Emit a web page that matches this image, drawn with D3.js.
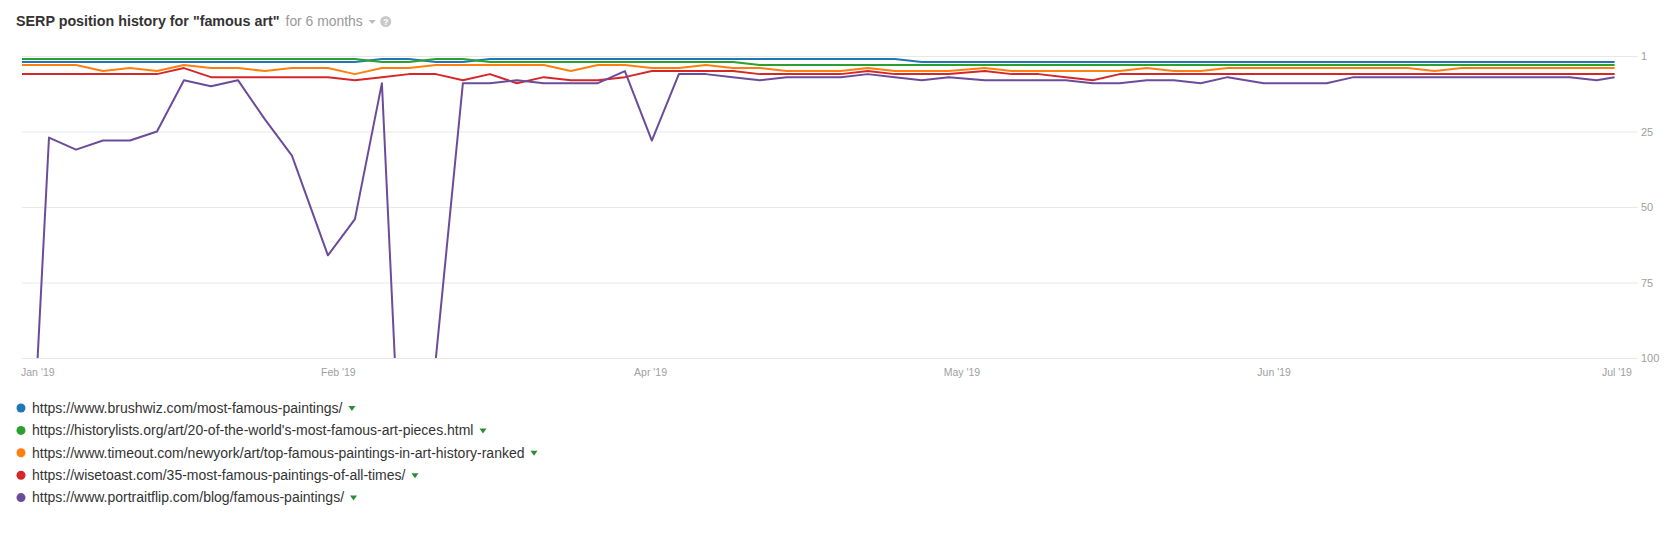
<!DOCTYPE html>
<html>
<head>
<meta charset="utf-8">
<script src="https://cdn.jsdelivr.net/npm/d3@7"></script>
<style>
  body { margin: 0; background: #fff; }
  svg { font-family: "Liberation Sans", Arial, sans-serif; display: block; }
</style>
</head>
<body>
<svg id="chart"></svg>
<script>
// sample days (ordinal position of each SERP check)
var days = [0,3,6,9,12,15,18,21,24,27,30,34,37,40,43,46,49,52,55,58,61,64,67,70,73,76,79,82,85,88,
  91,94,97,100,103,107,110,113,116,119,122,125,128,131,134,138,141,145,148,151,154,157,160,163,166,169,172,175,177];

// month labels on the x axis, positioned in the same day units
var tickDays = [1.7, 35.1, 69.8, 104.4, 139.1, 177.2];
var tickLabels = ["Jan '19", "Feb '19", "Apr '19", "May '19", "Jun '19", "Jul '19"];

var rankTicks = [0, 25, 50, 75, 100];

var urls = [
  "https://www.brushwiz.com/most-famous-paintings/",
  "https://historylists.org/art/20-of-the-world's-most-famous-art-pieces.html",
  "https://www.timeout.com/newyork/art/top-famous-paintings-in-art-history-ranked",
  "https://wisetoast.com/35-most-famous-paintings-of-all-times/",
  "https://www.portraitflip.com/blog/famous-paintings/"
];
var colors = ["#1f77b4", "#2ca02c", "#ff7f0e", "#d62728", "#6b4c9a"];

// positions (200 / 100 = out of top 100)
var brushwiz = [2,2,2,2,2,2,2,2,2,2,2,2,2,1,1,2,2,1,1,1,1,1,1,1,1,1,1,1,1,1,1,1,1,
  2,2,2,2,2,2,2,2,2,2,2,2,2,2,2,2,2,2,2,2,2,2,2,2,2,2];
var historylists = [1,1,1,1,1,1,1,1,1,1,1,1,1,2,2,1,1,2,2,2,2,2,2,2,2,2,2,
  3,3,3,3,3,3,3,3,3,3,3,3,3,3,3,3,3,3,3,3,3,3,3,3,3,3,3,3,3,3,3,3];
var timeout = [3,3,3,5,4,5,3,4,4,5,4,4,6,4,4,3,3,3,3,3,5,3,3,4,4,3,4,4,5,5,
  5,4,5,5,5,4,5,5,5,5,5,4,5,5,4,4,4,4,4,4,4,5,4,4,4,4,4,4,4];
var wisetoast = [6,6,6,6,6,6,4,7,7,7,7,7,8,7,6,6,8,6,9,7,8,8,7,5,5,5,5,6,6,6,
  6,5,6,6,6,5,6,6,7,8,6,6,6,6,6,6,6,6,6,6,6,6,6,6,6,6,6,6,6];
var portraitflip = [200,27,31,28,28,25,8,10,8,21,33,66,54,9,200,100,9,9,8,9,9,9,5,28,6,6,7,8,7,7,
  7,6,7,8,7,8,8,8,8,9,9,8,8,9,7,9,9,9,7,7,7,7,7,7,7,7,7,8,7];

var series = [brushwiz, historylists, timeout, wisetoast, portraitflip];

var width = 1675, height = 533;
var plot = {left: 22, right: 1638, top: 56, bottom: 358};

var svg = d3.select("#chart")
    .attr("width", width)
    .attr("height", height);

var x = d3.scaleLinear()
    .domain([0, 179.6])
    .range([plot.left, plot.right]);

var y = d3.scaleLinear()
    .domain([0, 100])
    .range([plot.top, plot.bottom]);

// gridlines + right labels
var axisY = svg.append("g")
    .attr("transform", "translate(" + plot.right + ",0)")
    .call(d3.axisRight(y)
        .tickValues(rankTicks)
        .tickFormat(function(d) { return d === 0 ? "1" : d; })
        .tickSize(-(plot.right - plot.left))
        .tickPadding(3));
axisY.select(".domain").remove();
axisY.selectAll("line").attr("stroke", "#e8e8e8");
axisY.selectAll("text")
    .attr("fill", "#a0a0a0")
    .style("font-size", "11px")
    .style("font-family", "'Liberation Sans', Arial, sans-serif");

var axisX = svg.append("g")
    .attr("transform", "translate(0," + plot.bottom + ")")
    .call(d3.axisBottom(x)
        .tickValues(tickDays)
        .tickFormat(function(d, i) { return tickLabels[i]; })
        .tickSize(0)
        .tickPadding(11));
axisX.select(".domain").remove();
axisX.selectAll("text")
    .attr("fill", "#a0a0a0")
    .style("font-size", "10.5px")
    .style("font-family", "'Liberation Sans', Arial, sans-serif");

svg.append("clipPath")
    .attr("id", "plotclip")
  .append("rect")
    .attr("x", plot.left)
    .attr("y", plot.top - 10)
    .attr("width", plot.right - plot.left)
    .attr("height", plot.bottom - plot.top + 10);

var line = d3.line()
    .x(function(d, i) { return x(days[i]); })
    .y(function(d) { return y(d); });

svg.append("g")
    .attr("clip-path", "url(#plotclip)")
  .selectAll("path")
  .data(series)
  .enter()
  .append("path")
    .attr("d", line)
    .attr("fill", "none")
    .attr("stroke", function(d, i) { return colors[i]; })
    .attr("stroke-width", 2)
    .attr("stroke-linejoin", "round");

// title
var title = svg.append("text")
    .attr("x", 16)
    .attr("y", 26)
    .style("font-size", "14.3px")
    .style("font-weight", "bold")
    .attr("fill", "#333")
    .text('SERP position history for "famous art"');
var tw = title.node().getComputedTextLength();
var sub = svg.append("text")
    .attr("x", 16 + tw + 6)
    .attr("y", 26)
    .style("font-size", "13.9px")
    .attr("fill", "#999")
    .text("for 6 months");
var sx = 16 + tw + 6 + sub.node().getComputedTextLength() + 6;
svg.append("path")
    .attr("d", "M" + sx + ",20 l7,0 l-3.5,4 z")
    .attr("fill", "#bbb");
svg.append("circle")
    .attr("cx", sx + 17)
    .attr("cy", 21.5)
    .attr("r", 5.5)
    .attr("fill", "#c8c8c8");
svg.append("text")
    .attr("x", sx + 17)
    .attr("y", 25)
    .attr("text-anchor", "middle")
    .style("font-size", "9px")
    .style("font-weight", "bold")
    .attr("fill", "#fff")
    .text("?");

// legend
var legend = svg.append("g").selectAll("g")
    .data(urls)
    .enter()
    .append("g")
    .attr("transform", function(d, i) { return "translate(21," + (408 + i * 22.4) + ")"; });

legend.append("circle")
    .attr("r", 4.5)
    .attr("fill", function(d, i) { return colors[i]; });

legend.append("text")
    .attr("x", 11)
    .attr("y", 4.8)
    .style("font-size", "14px")
    .attr("fill", "#333")
    .text(function(d) { return d; });

legend.each(function() {
  var g = d3.select(this);
  var w = g.select("text").node().getComputedTextLength();
  g.append("path")
    .attr("d", "M" + (11 + w + 6) + ",-2 l7,0 l-3.5,5 z")
    .attr("fill", "#2e8b3a");
});
</script>
</body>
</html>
